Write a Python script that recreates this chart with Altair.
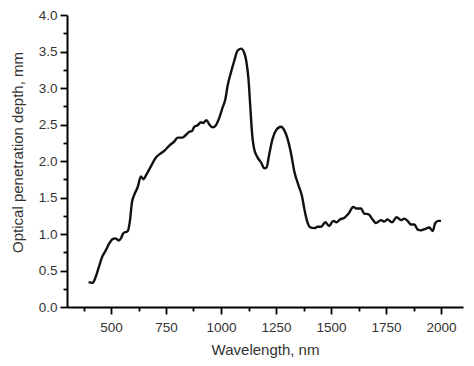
import altair as alt
import pandas as pd

wavelength = [398, 416, 429, 444, 459, 477, 492, 507, 520, 535, 545, 556, 576, 586, 595, 606, 621, 636,
              647, 662, 682, 705, 720, 742, 765, 788, 803, 825, 841, 856, 868, 879, 894, 909, 919, 934,
              947, 962, 977, 992, 1007, 1020, 1030, 1045, 1060, 1075, 1091, 1106, 1116, 1125, 1133, 1141,
              1151, 1166, 1182, 1197, 1207, 1219, 1234, 1250, 1273, 1288, 1303, 1318, 1333, 1353, 1368,
              1379, 1391, 1406, 1424, 1439, 1455, 1474, 1492, 1510, 1525, 1541, 1560, 1580, 1601, 1616,
              1636, 1651, 1671, 1689, 1704, 1727, 1742, 1757, 1777, 1798, 1818, 1833, 1848, 1864, 1879,
              1894, 1909, 1929, 1947, 1962, 1974, 1988, 2000]
depth = [0.34, 0.33, 0.40, 0.54, 0.68, 0.78, 0.87, 0.93, 0.94, 0.91, 0.94, 1.01, 1.04, 1.18, 1.43, 1.54,
         1.64, 1.79, 1.75, 1.82, 1.93, 2.05, 2.09, 2.14, 2.21, 2.27, 2.32, 2.32, 2.36, 2.40, 2.41, 2.47,
         2.49, 2.53, 2.52, 2.56, 2.50, 2.46, 2.49, 2.59, 2.73, 2.85, 3.03, 3.21, 3.37, 3.51, 3.54, 3.48,
         3.35, 3.12, 2.75, 2.39, 2.16, 2.05, 1.98, 1.90, 1.91, 2.09, 2.30, 2.42, 2.47, 2.42, 2.30, 2.11,
         1.86, 1.66, 1.52, 1.34, 1.18, 1.09, 1.08, 1.10, 1.10, 1.16, 1.11, 1.18, 1.16, 1.20, 1.22, 1.28,
         1.37, 1.35, 1.35, 1.28, 1.27, 1.20, 1.15, 1.19, 1.17, 1.20, 1.16, 1.23, 1.19, 1.21, 1.18, 1.13,
         1.13, 1.06, 1.05, 1.07, 1.09, 1.04, 1.15, 1.18, 1.18]

x_ticks = [375, 500, 625, 750, 875, 1000, 1125, 1250, 1375, 1500, 1625, 1750, 1875, 2000]
y_ticks = [0.0, 0.25, 0.5, 0.75, 1.0, 1.25, 1.5, 1.75, 2.0, 2.25, 2.5, 2.75, 3.0, 3.25, 3.5, 3.75, 4.0]

df = pd.DataFrame({"wavelength": wavelength, "depth": depth})

FONT = "Liberation Sans"
TXT = "#333333"

x_axis = alt.Axis(
    values=x_ticks, format="d", grid=False,
    labelExpr="datum.value % 250 === 0 ? datum.label : ''",
    tickSize={"condition": {"test": "datum.value % 250 === 0", "value": 7}, "value": 4},
    tickColor="black", tickWidth=1.8, domainColor="black", domainWidth=2,
    labelFont=FONT, labelFontSize=13.5, labelColor=TXT, labelPadding=6,
    title="Wavelength, nm", titleFont=FONT, titleFontSize=15, titleFontWeight="normal",
    titleColor=TXT, titleX=198, titleY=42, titleBaseline="middle", titleAlign="center",
)
y_axis = alt.Axis(
    values=y_ticks, format=".1f", grid=False,
    labelExpr="abs(datum.value*2 - round(datum.value*2)) < 0.01 ? datum.label : ''",
    tickSize={"condition": {"test": "abs(datum.value*2 - round(datum.value*2)) < 0.01", "value": 7}, "value": 4},
    tickColor="black", tickWidth=1.8, domainColor="black", domainWidth=2,
    labelFont=FONT, labelFontSize=13.5, labelColor=TXT, labelPadding=3,
    title="Optical penetration depth, mm", titleFont=FONT, titleFontSize=15, titleFontWeight="normal",
    titleColor=TXT, titleX=-50, titleY=137, titleBaseline="middle", titleAlign="center", titleAngle=-90,
)

chart = alt.Chart(df).mark_line(color="#111111", strokeWidth=2.4, interpolate="monotone").encode(
    x=alt.X("wavelength:Q", scale=alt.Scale(domain=[300, 2100], nice=False, zero=False), axis=x_axis),
    y=alt.Y("depth:Q", scale=alt.Scale(domain=[0, 4], nice=False), axis=y_axis),
).properties(
    width=396, height=292,
    autosize=alt.AutoSizeParams(type="none"),
    padding={"left": 59, "top": 7, "right": 3, "bottom": 51},
    background="white",
).configure_view(stroke=None)

chart.save("out.html", embed_options={"renderer": "svg", "actions": False})
